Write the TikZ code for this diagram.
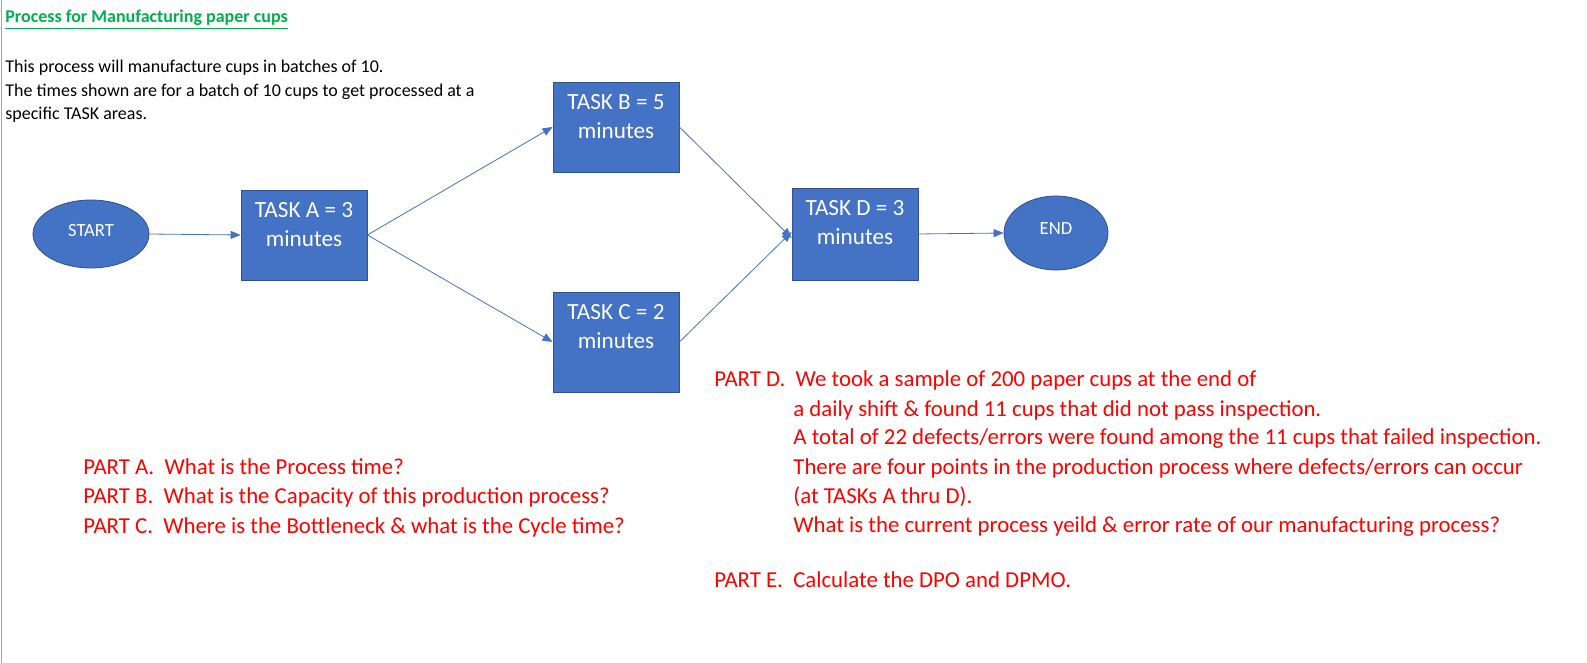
\documentclass[tikz,border=0pt]{standalone}
\usepackage{fontspec}
\setmainfont{Carlito}
\usetikzlibrary{arrows.meta,shapes.geometric}
\definecolor{boxblue}{RGB}{68,114,196}
\definecolor{edgeblue}{RGB}{47,82,143}
\definecolor{titlegreen}{RGB}{0,176,80}
\tikzset{
  task/.style={draw=edgeblue,fill=boxblue,minimum width=63pt,minimum height=45pt,inner sep=0pt},
  tasktext/.style={text=white,font=\fontsize{11.6}{14.5}\selectfont,align=center,anchor=north,yshift=-3pt},
  term/.style={ellipse,draw=edgeblue,fill=boxblue,text=white,font=\fontsize{9.3}{10}\selectfont,inner sep=0pt},
  flow/.style={draw=boxblue,line width=0.4pt,-{Triangle[length=5pt,width=4pt]}},
  plain/.style={anchor=west,font=\fontsize{9}{10}\selectfont,inner sep=0pt},
  ask/.style={anchor=west,text=red,font=\fontsize{11.4}{12}\selectfont,inner sep=0pt}
}
\begin{document}
\begin{tikzpicture}[x=0.5pt,y=-0.5pt]
\useasboundingbox[fill=white] (0,0) rectangle (1587,663);
\draw[gray!70] (1,0) -- (1,663);
% header texts
\node[plain,text=titlegreen,font=\bfseries\fontsize{9}{10}\selectfont] (title) at (5,20) {\underline{Process for Manufacturing paper cups}};
\node[plain] (intro1) at (5,68) {This process will manufacture cups in batches of 10.};
\node[plain] (intro2) at (5,92) {The times shown are for a batch of 10 cups to get processed at a};
\node[plain] (intro3) at (5,115) {specific TASK areas.};
% flow chart
\node[term,minimum width=58pt,minimum height=34pt] (start) at (91,234) {\raisebox{4pt}{START}};
\node[task,label={[tasktext]north:TASK A = 3\\minutes}] (taskA) at (304,235) {};
\node[task,label={[tasktext]north:TASK B = 5\\minutes}] (taskB) at (616,127) {};
\node[task,minimum height=50pt,label={[tasktext]north:TASK C = 2\\minutes}] (taskC) at (616,342) {};
\node[task,minimum height=46pt,label={[tasktext]north:TASK D = 3\\minutes}] (taskD) at (855,234) {};
\node[term,minimum width=52pt,minimum height=37pt] (finish) at (1056,233) {\raisebox{4pt}{END}};
\draw[flow] (start.east) -- (taskA.west);
\draw[flow] (taskA.east) -- (taskB.west);
\draw[flow] (taskA.east) -- (taskC.west);
\draw[flow] (taskB.east) -- ([yshift=-2pt]taskD.west);
\draw[flow] (taskC.east) -- ([yshift=1pt]taskD.west);
\draw[flow] (taskD.east) -- (finish.west);
% questions
\node[ask] (qA) at (83,467) {PART A.\ \ What is the Process time?};
\node[ask] (qB) at (83,497) {PART B.\ \ What is the Capacity of this production process?};
\node[ask] (qC) at (83,527) {PART C.\ \ Where is the Bottleneck \& what is the Cycle time?};
\node[ask] (qD) at (714,380) {PART D.\ \ We took a sample of 200 paper cups at the end of};
\node[ask] (qD1) at (793,410) {a daily shift \& found 11 cups that did not pass inspection.};
\node[ask] (qD2) at (793,439) {A total of 22 defects/errors were found among the 11 cups that failed inspection.};
\node[ask] (qD3) at (793,468) {There are four points in the production process where defects/errors can occur};
\node[ask] (qD4) at (793,497) {(at TASKs A thru D).};
\node[ask] (qD5) at (793,527) {What is the current process yeild \& error rate of our manufacturing process?};
\node[ask] (qE) at (714,580) {PART E.\ \ Calculate the DPO and DPMO.};
\end{tikzpicture}
\end{document}
